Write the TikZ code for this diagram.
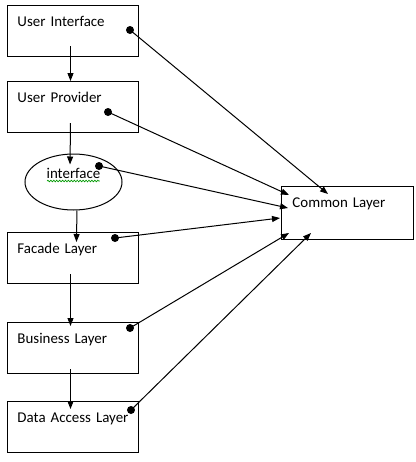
\documentclass[tikz,border=0pt]{standalone}
\usepackage{fontspec}
\setmainfont{Carlito}
\usetikzlibrary{arrows.meta,positioning,shapes.geometric,decorations.pathmorphing}

\begin{document}
\begin{tikzpicture}[
    x=0.75pt, y=-0.75pt,
    line width=0.75pt,
    font=\fontsize{11.2}{13.4}\selectfont,
    layer/.style={draw, anchor=north west, align=left, inner ysep=0, inner xsep=7.5pt, text width=83.25pt, text height=15.75pt, text depth=22.5pt},
    common/.style={layer, inner xsep=8.25pt, text width=82.5pt, text depth=24pt},
    iface/.style={draw, ellipse, inner sep=0, minimum width=72.75pt, minimum height=42pt, text height=8.25pt, text depth=14.25pt},
    link/.style={-{Triangle[length=6pt,width=4.5pt]}},
    dot/.style={fill, circle, inner sep=0, minimum size=6pt},
    squiggle/.style={draw=green!60!black, line width=0.5pt, decorate, decoration={snake, amplitude=0.6pt, segment length=2.2pt}}]
\useasboundingbox (0,0) rectangle (416,462);

% layers
\node[layer] (ui) at (7,5) {User Interface};
\node[layer] (up) at (7,81) {User Provider};
\node[iface] (ifc) at (73.5,182) {interface};
\node[layer] (facade) at (7,232) {Facade Layer};
\node[layer] (business) at (7,322) {Business Layer};
\node[layer] (data) at (7,401) {Data Access Layer};
\node[common] (common) at (281,186) {Common Layer};

\path[squiggle] (47,181) -- (100,181);

% down the stack
\draw[link] ([xshift=-1.875pt, yshift=8.25pt]ui.south) -- ([xshift=-1.875pt]up.north);
\draw[link] ([xshift=-1.875pt, yshift=7.5pt]up.south) -- ([xshift=-2.6pt, yshift=-8.25pt]ifc.north);
\draw[link] ([xshift=2.6pt]ifc.south) -- ([xshift=2.6pt, yshift=-7.5pt]facade.north);
\draw[link] ([xshift=-1.875pt, yshift=7.5pt]facade.south) -- ([xshift=-1.875pt, yshift=-3pt]business.north);
\draw[link] ([xshift=-1.875pt, yshift=3.75pt]business.south) -- ([xshift=-1.875pt, yshift=-6pt]data.north);

% dots
\node[dot] (ui-dot) at (130,30) {};
\node[dot] (up-dot) at (108,112) {};
\node[dot] (ifc-dot) at (99,166) {};
\node[dot] (facade-dot) at (115,238) {};
\node[dot] (business-dot) at (130,328) {};
\node[dot] (data-dot) at (131,410) {};

\coordinate (ui-in) at (328,194);
\coordinate (up-in) at (289,195);
\coordinate (ifc-in) at (288,208);
\coordinate (facade-in) at (280,218);
\coordinate (business-in) at (289,233);
\coordinate (data-in) at (311,233);

% into the common layer
\draw[link] (ui-dot.center) -- (ui-in);
\draw[link] (up-dot.center) -- (up-in);
\draw[link] (ifc-dot.center) -- (ifc-in);
\draw[link] (facade-dot.center) -- (facade-in);
\draw[link] (business-dot.center) -- (business-in);
\draw[link] (data-dot.center) -- (data-in);

\end{tikzpicture}
\end{document}
